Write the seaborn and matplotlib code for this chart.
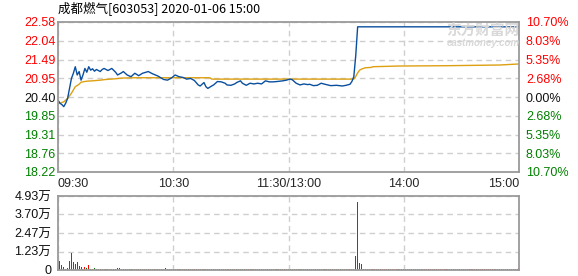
import numpy as np
import pandas as pd
import matplotlib
matplotlib.use("Agg")
import matplotlib.pyplot as plt
import seaborn as sns

# ---------------- data ----------------
title = "成都燃气[603053] 2020-01-06 15:00"
prev_close = 20.40
price_levels = [22.58, 22.04, 21.49, 20.95, 20.40, 19.85, 19.31, 18.76, 18.22]
pct_labels = ["10.70%", "8.03%", "5.35%", "2.68%", "0.00%", "2.68%", "5.35%", "8.03%", "10.70%"]
vol_levels = [4.93, 3.70, 2.47, 1.23, 0]
vol_labels = ["4.93万", "3.70万", "2.47万", "1.23万", "0"]
time_ticks = [0, 60, 120, 180, 240]
time_labels = ["09:30", "10:30", "11:30/13:00", "14:00", "15:00"]

price_min = [0, 1, 2, 3, 4, 5, 6, 7, 8, 9, 10, 11, 12, 13, 14, 15, 16, 17, 18, 19, 20,
             22, 23, 24, 26, 28, 30, 31, 33, 34, 36, 38, 40, 42, 44, 47, 49, 52, 55, 57,
             59, 61, 63, 65, 67, 69, 71, 73, 74, 76, 77, 78, 80, 81, 83, 85, 87, 88, 90,
             92, 93, 95, 96, 98, 100, 102, 104, 106, 108, 110, 112, 114, 117, 119, 120,
             121, 122, 124, 126, 128, 130, 131, 133, 135, 137, 139, 142, 145, 148, 150,
             152, 153, 154, 155, 156, 240]
price_val = [20.30, 20.22, 20.18, 20.12, 20.22, 20.36, 20.65, 20.94, 21.09, 21.28, 21.04,
             21.14, 20.89, 21.04, 21.23, 21.12, 21.28, 21.18, 21.22, 21.15, 21.20,
             21.14, 21.20, 21.23, 21.17, 21.23, 21.12, 21.04, 21.10, 21.14, 21.04, 20.99,
             21.09, 21.02, 21.09, 21.14, 21.08, 21.01, 20.91, 20.89,
             20.95, 21.04, 20.99, 20.97, 20.92, 20.94, 20.88, 20.75, 20.72, 20.82, 20.70,
             20.65, 20.72, 20.75, 20.85, 20.84, 20.80, 20.75, 20.74,
             20.78, 20.82, 20.87, 20.80, 20.74, 20.80, 20.78, 20.80, 20.78, 20.87, 20.84,
             20.84, 20.85, 20.87, 20.89, 20.91,
             20.92, 20.90, 20.80, 20.75, 20.78, 20.76, 20.77, 20.73, 20.74, 20.80, 20.77,
             20.73, 20.74, 20.72, 20.74,
             20.77, 20.85, 20.99, 21.60, 22.44, 22.44]

avg_min = [0, 1, 3, 5, 7, 9, 11, 12, 15, 18, 22, 25, 30, 33, 40, 79, 80, 154, 155, 156,
           157, 158, 160, 163, 164, 177, 203, 230, 240]
avg_val = [20.30, 20.22, 20.26, 20.36, 20.51, 20.70, 20.77, 20.83, 20.86, 20.87, 20.89,
           20.91, 20.93, 20.95, 20.96, 20.96, 20.92, 20.92, 21.00, 21.10,
           21.18, 21.21, 21.25, 21.26, 21.28, 21.30, 21.31, 21.33, 21.36]

vol_min = list(range(1, 241))
vol_val = [
    0.60, 0.33, 0.22, 0.09, 0.16, 0.60, 1.13, 0.55, 0.38, 0.55, 0.27, 0.20, 0.09, 0.20, 0.11, 0.33, 0.09, 0.05, 0.13, 0.07,
    0.08, 0.06, 0.07, 0.06, 0.05, 0.07, 0.06, 0.05, 0.06, 0.07, 0.13, 0.13, 0.07, 0.06, 0.05, 0.06, 0.05, 0.07, 0.06, 0.05,
    0.06, 0.05, 0.06, 0.07, 0.05, 0.06, 0.05, 0.06, 0.07, 0.05, 0.06, 0.05, 0.06, 0.07, 0.08, 0.12, 0.06, 0.05, 0.06, 0.05,
    0.06, 0.05, 0.06, 0.05, 0.06, 0.05, 0.07, 0.06, 0.05, 0.06, 0.05, 0.06, 0.07, 0.06, 0.05, 0.06, 0.05, 0.06, 0.05, 0.06,
    0.06, 0.05, 0.07, 0.06, 0.05, 0.06, 0.05, 0.06, 0.05, 0.07, 0.06, 0.05, 0.06, 0.05, 0.07, 0.06, 0.05, 0.06, 0.05, 0.06,
    0.05, 0.06, 0.05, 0.07, 0.06, 0.05, 0.06, 0.05, 0.06, 0.05, 0.07, 0.06, 0.05, 0.06, 0.05, 0.06, 0.05, 0.07, 0.06, 0.07,
    0.06, 0.05, 0.06, 0.05, 0.07, 0.06, 0.05, 0.06, 0.05, 0.06, 0.05, 0.06, 0.07, 0.06, 0.05, 0.06, 0.05, 0.06, 0.05, 0.06,
    0.06, 0.05, 0.06, 0.05, 0.06, 0.05, 0.06, 0.07, 0.06, 0.05, 0.06, 0.05, 0.06, 0.07, 0.93, 4.53, 0.47, 0.40, 0.06, 0.07,
    0.06, 0.05, 0.06, 0.07, 0.06, 0.05, 0.06, 0.05, 0.06, 0.07, 0.05, 0.06, 0.05, 0.06, 0.07, 0.06, 0.05, 0.06, 0.05, 0.06,
    0.05, 0.06, 0.07, 0.06, 0.05, 0.06, 0.05, 0.06, 0.07, 0.05, 0.06, 0.05, 0.06, 0.05, 0.07, 0.06, 0.05, 0.06, 0.05, 0.06,
    0.06, 0.05, 0.06, 0.05, 0.07, 0.06, 0.05, 0.06, 0.05, 0.06, 0.07, 0.05, 0.06, 0.05, 0.06, 0.05, 0.07, 0.06, 0.05, 0.06,
    0.05, 0.06, 0.05, 0.06, 0.07, 0.06, 0.05, 0.06, 0.05, 0.06, 0.05, 0.07, 0.06, 0.05, 0.06, 0.05, 0.06, 0.07, 0.06, 0.10,
]
vol_dir = ("grgrgrrgrgrgrrgrgrgr" "grgrggrgrrggrgrgrggr" "grrgrgrggrrgrgggrgrg"
           "rgrggrgrgrrgrgrgrgrg" "grgrrgrgrggrgrggrgrg" "rgrgrrgrgrggrgrgrgrg"
           "grgrggrgrgrgrggrgrgr" "grgrgrggrgrggrrrrrrr" "rrgrrrgrrrrgrrrrgrrr"
           "rrrgrrrrrgrrrrrgrrrr" "rrrrgrrrrrrgrrrrrrgr" "rrrrrgrrrrrrrgrrrrrr")

# ---------------- style ----------------
sns.set_style("white")
plt.rcParams["font.family"] = ["Liberation Sans", "Noto Sans CJK SC", "DejaVu Sans"]

RED = "#FF0000"
GREEN = "#008000"
DARK = "#101010"
BLUE = "#0A4F9E"
GOLD = "#DDA010"
SPINE = "#9A9A9A"
GRID = "#CFCFCF"

W, H = 578, 276
fig = plt.figure(figsize=(W / 100, H / 100), dpi=100)
fig.patch.set_facecolor("white")


def rect(l, t, r, b):
    return [l / W, 1 - b / H, (r - l) / W, (b - t) / H]


axp = fig.add_axes(rect(58, 22, 519, 172))
axv = fig.add_axes(rect(58, 196, 519, 270))

# ---- price panel ----
sns.lineplot(x=avg_min, y=avg_val, ax=axp, color=GOLD, linewidth=1.0, estimator=None, sort=False)
sns.lineplot(x=price_min, y=price_val, ax=axp, color=BLUE, linewidth=1.0, estimator=None, sort=False)
axp.set_xlim(0, 240)
axp.set_ylim(price_levels[-1], price_levels[0])
axp.set_xlabel("")
axp.set_ylabel("")
axp.set_yticks(price_levels)
axp.set_yticklabels([f"{v:.2f}" for v in price_levels], fontsize=9)
for lab, v in zip(axp.get_yticklabels(), price_levels):
    lab.set_color(RED if v > prev_close + 1e-9 else (GREEN if v < prev_close - 1e-9 else DARK))
axp.set_xticks(time_ticks)
axp.set_xticklabels(time_labels, fontsize=9)
xl = axp.get_xticklabels()
xl[0].set_ha("left")
xl[-1].set_ha("right")
axp.tick_params(axis="both", length=0)
axp.tick_params(axis="y", pad=2)
axp.tick_params(axis="x", pad=4)

axr = axp.twinx()
axr.set_ylim(price_levels[-1], price_levels[0])
axr.set_yticks(price_levels)
axr.set_yticklabels(pct_labels, fontsize=9)
for lab, v in zip(axr.get_yticklabels(), price_levels):
    lab.set_color(RED if v > prev_close + 1e-9 else (GREEN if v < prev_close - 1e-9 else DARK))
axr.tick_params(axis="y", length=0, pad=5)
for s in axr.spines.values():
    s.set_visible(False)

# ---- volume panel ----
bar_colors = [RED if d == "r" else GREEN for d in vol_dir]
axv.bar(vol_min, vol_val, width=0.55, color=bar_colors, linewidth=0, antialiased=False, zorder=3)
axv.set_xlim(0, 240)
axv.set_ylim(0, vol_levels[0])
axv.set_xlabel("")
axv.set_ylabel("")
axv.set_yticks(vol_levels)
axv.set_yticklabels(vol_labels, fontsize=9, color=DARK)
axv.set_xticks(time_ticks)
axv.set_xticklabels([])
axv.tick_params(axis="both", length=0)
axv.tick_params(axis="y", pad=5)

for ax in (axp, axv):
    ax.set_facecolor("white")
    ax.grid(True, color=GRID, linestyle=(0, (4, 3)), linewidth=1.0)
    ax.set_axisbelow(True)
    for s in ax.spines.values():
        s.set_visible(True)
        s.set_color(SPINE)
        s.set_linewidth(1.3)
        s.set_zorder(5)

# ---- texts ----
fig.text(58 / W, 1 - 9 / H, title, fontsize=9, va="center", ha="left",
         family=["Noto Sans CJK SC", "DejaVu Sans"], color="#000000")
fig.text(483 / W, 1 - 31 / H, "东方财富网", fontsize=10.5, fontweight="bold", va="center",
         ha="center", color="#D8D8D8", family=["Noto Sans CJK SC", "DejaVu Sans"], zorder=1)
fig.text(483 / W, 1 - 43 / H, "eastmoney.com", fontsize=7, fontweight="bold", style="italic",
         va="center", ha="center", color="#D8D8D8", zorder=1)

fig.savefig("out.png", dpi=100, facecolor="white")
